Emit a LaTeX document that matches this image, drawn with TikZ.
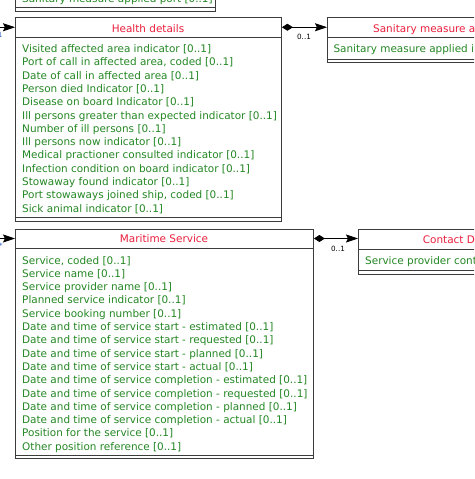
\documentclass[tikz,border=0pt]{standalone}
\usepackage{fontspec}
\setmainfont{DejaVu Sans}
\usetikzlibrary{arrows.meta}
\definecolor{umlline}{RGB}{60,60,60}
\definecolor{umlgreen}{RGB}{35,135,35}
\definecolor{umlred}{RGB}{235,30,60}
\definecolor{umlblue}{RGB}{40,90,200}
\newcommand\umlfont{\fontsize{10.45}{13}\selectfont}
\newcommand\multfont{\fontsize{7.2}{8}\selectfont}
\tikzset{
  classbox/.style={draw=umlline,fill=white,line width=0.9pt,inner sep=0pt,anchor=north west},
  compline/.style={draw=umlline,line width=0.9pt},
  classname/.style={text=umlred,font=\umlfont,inner sep=0pt,anchor=base},
  attr/.style={text=umlgreen,font=\umlfont,inner sep=0pt,anchor=base west},
  mult/.style={font=\multfont,inner sep=0pt},
  role/.style={font=\multfont,text=umlblue,inner sep=0pt},
  assoc/.style={line width=0.9pt,{Diamond[length=11pt,width=7pt]}-{Stealth[length=12pt,width=8pt,inset=2pt]}},
  incoming/.style={line width=0.9pt,-{Stealth[length=12pt,width=8pt,inset=2pt]}}
}
\begin{document}
\begin{tikzpicture}[x=1pt,y=-1pt]
  \useasboundingbox (0,0) rectangle (474,479);
  \clip (0,0) rectangle (474,479);
  % class boxes
  \node[classbox,minimum width=200pt,minimum height=70.5pt] (top) at (15,-60) {};
  \node[classbox,minimum width=266pt,minimum height=204pt] (health) at (15,17) {};
  \node[classbox,minimum width=240pt,minimum height=45pt] (sanitary) at (327,17) {};
  \node[classbox,minimum width=298pt,minimum height=229.5pt] (maritime) at (15,228.5) {};
  \node[classbox,minimum width=200pt,minimum height=45pt] (contact) at (358,228.5) {};
  % name and operation compartments
  \foreach \cls/\head/\ops in {top/20.5/3.5,health/20.5/4,sanitary/20.5/3,maritime/20/3.5,contact/20.5/3.5}{
    \draw[compline] ([yshift=-\head pt]\cls.north west) -- ([yshift=-\head pt]\cls.north east);
    \draw[compline] ([yshift=\ops pt]\cls.south west) -- ([yshift=\ops pt]\cls.south east);
  }
  % class names
  \node[classname] (health-name) at (148,32.3) {Health details};
  \node[classname,anchor=base west] (sanitary-name) at (373,32.3) {Sanitary measure applied};
  \node[classname] (maritime-name) at (164,242.8) {Maritime Service};
  \node[classname,anchor=base west] (contact-name) at (422.7,243.3) {Contact Details};
  % attributes
  \node[attr] (top-a0) at (22,2) {Sanitary measure applied port [0..1]};
  \foreach \a [count=\i from 0] in {Visited affected area indicator [0..1],
      {Port of call in affected area, coded [0..1]},
      Date of call in affected area [0..1],
      Person died Indicator [0..1],
      Disease on board Indicator [0..1],
      Ill persons greater than expected indicator [0..1],
      Number of ill persons [0..1],
      Ill persons now indicator [0..1],
      Medical practioner consulted indicator [0..1],
      Infection condition on board indicator [0..1],
      Stowaway found indicator [0..1],
      {Port stowaways joined ship, coded [0..1]},
      Sick animal indicator [0..1]}
    \node[attr] (health-a\i) at (22,{52.5+13.3*\i}) {\a};
  \node[attr] (sanitary-a0) at (333.3,52.5) {Sanitary measure applied indicator [0..1]};
  \foreach \a [count=\i from 0] in {{Service, coded [0..1]},
      Service name [0..1],
      Service provider name [0..1],
      Planned service indicator [0..1],
      Service booking number [0..1],
      Date and time of service start - estimated [0..1],
      Date and time of service start - requested [0..1],
      Date and time of service start - planned [0..1],
      Date and time of service start - actual [0..1],
      Date and time of service completion - estimated [0..1],
      Date and time of service completion - requested [0..1],
      Date and time of service completion - planned [0..1],
      Date and time of service completion - actual [0..1],
      Position for the service [0..1],
      Other position reference [0..1]}
    \node[attr] (maritime-a\i) at (22,{264+13.3*\i}) {\a};
  \node[attr] (contact-a0) at (365,264) {Service provider contact details [0..1]};
  % associations
  \coordinate (health-src) at (-8,27.25);
  \coordinate (maritime-src) at (-8,238.5);
  \draw[incoming] (health-src) -- ([yshift=-10.25pt]health.north west);
  \draw[incoming] (maritime-src) -- ([yshift=-10pt]maritime.north west);
  \draw[assoc] ([yshift=-10.25pt]health.north east) -- ([yshift=-10.25pt]sanitary.north west);
  \draw[assoc] ([yshift=-10pt]maritime.north east) -- ([yshift=-10pt]contact.north west);
  \node[mult] (sanitary-mult) at (304,37) {0..1};
  \node[mult] (contact-mult) at (338,249) {0..1};
  \node[role,anchor=north east] (health-role) at (2.7,32) {1};
  \node[role,anchor=east] (maritime-role) at (3,246) {*};
\end{tikzpicture}
\end{document}
